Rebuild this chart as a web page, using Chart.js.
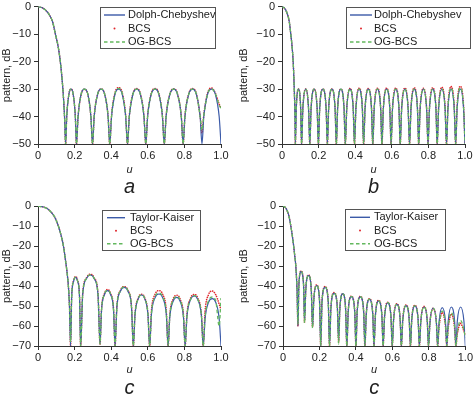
<!DOCTYPE html>
<html>
<head>
<meta charset="utf-8">
<script src="https://cdn.jsdelivr.net/npm/chart.js@4.4.1/dist/chart.umd.min.js"></script>
<style>
  html, body { margin: 0; padding: 0; background: #fff; width: 474px; height: 397px; overflow: hidden; position: relative; }
  canvas { position: absolute; }
</style>
</head>
<body>
<canvas id="pa" width="237" height="200" style="left:0;top:-3px"></canvas>
<canvas id="pb" width="237" height="200" style="left:237px;top:-3px"></canvas>
<canvas id="pc" width="237" height="203" style="left:0;top:194px"></canvas>
<canvas id="pd" width="237" height="203" style="left:237px;top:194px"></canvas>
<script>
// tick labels and names
const xTicks = [0, 0.2, 0.4, 0.6, 0.8, 1.0];
const yTicksAB = [0, -10, -20, -30, -40, -50];
const yTicksCD = [0, -10, -20, -30, -40, -50, -60, -70];
const namesAB = ['Dolph-Chebyshev', 'BCS', 'OG-BCS'];
const namesCD = ['Taylor-Kaiser', 'BCS', 'OG-BCS'];
const captions = ['a', 'b', 'c', 'c'];

// panel a : u, Dolph-Chebyshev, BCS, OG-BCS (dB)
const aU = [0, 0.02, 0.04, 0.06, 0.08, 0.095, 0.11, 0.122, 0.136, 0.145,
  0.151, 0.157, 0.169, 0.1805, 0.192, 0.204,
  0.21, 0.219, 0.236, 0.254, 0.272, 0.289,
  0.298, 0.307, 0.326, 0.345, 0.364, 0.383,
  0.392, 0.402, 0.421, 0.44, 0.46, 0.479,
  0.489, 0.499, 0.519, 0.539, 0.559, 0.579,
  0.589, 0.599, 0.619, 0.64, 0.66, 0.68,
  0.69, 0.7, 0.721, 0.742, 0.762, 0.783,
  0.793, 0.803, 0.824, 0.845, 0.865, 0.886,
  0.896, 0.906, 0.927, 0.948, 0.969, 0.99,
  1.0];
const aDC = [0, -0.3, -1.2, -2.8, -5.6, -10, -14.5, -20, -30, -40,
  -50, -40, -31.8, -30, -31.8, -40,
  -50, -40, -31.8, -30, -31.8, -40,
  -50, -40, -31.8, -30, -31.8, -40,
  -50, -40, -31.8, -30, -31.8, -40,
  -50, -40, -31.8, -30, -31.8, -40,
  -50, -40, -31.8, -30, -31.8, -40,
  -50, -40, -31.8, -30, -31.8, -40,
  -50, -40, -31.8, -30, -31.8, -40,
  -50, -40, -31.8, -30, -31.8, -40,
  -50];
const aBCS = [0, -0.3, -1.2, -2.8, -5.6, -10, -14.5, -20, -30, -40,
  -50, -40, -31.8, -30, -31.8, -40,
  -50, -40.1, -31.9, -30.1, -31.9, -40.1,
  -50, -40, -31.8, -30, -31.8, -40,
  -50, -39.5, -31.3, -29.5, -31.3, -39.5,
  -50, -39.8, -31.6, -29.8, -31.6, -39.8,
  -50, -39.8, -31.6, -29.8, -31.6, -39.8,
  -50, -39.9, -31.7, -29.9, -31.7, -39.9,
  -50, -39.8, -31.6, -29.8, -31.6, -39.8,
  -46, -39.4, -31.4, -29.6, -31.5, -35.5,
  -37];
const aOG = [0, -0.3, -1.2, -2.8, -5.6, -10, -14.5, -20, -30, -40,
  -50, -40, -31.8, -30, -31.8, -40,
  -50, -40, -31.8, -30, -31.8, -40,
  -50, -40, -31.8, -30, -31.8, -40,
  -50, -39.8, -31.6, -29.8, -31.6, -39.8,
  -50, -40, -31.8, -30, -31.8, -40,
  -50, -40, -31.8, -30, -31.8, -40,
  -50, -40, -31.8, -30, -31.8, -40,
  -50, -40, -31.8, -30, -31.8, -40,
  -45, -39.6, -31.7, -29.9, -31.7, -35.8,
  -37];

// panel b
const bU = [0, 0.01, 0.02, 0.03, 0.04, 0.048, 0.055, 0.061, 0.067, 0.071,
  0.073, 0.078, 0.09, 0.102,
  0.107, 0.114, 0.13, 0.145,
  0.152, 0.159, 0.176, 0.192,
  0.199, 0.206, 0.224, 0.241,
  0.248, 0.255, 0.273, 0.29,
  0.297, 0.304, 0.322, 0.339,
  0.346, 0.354, 0.371, 0.389,
  0.396, 0.404, 0.421, 0.439,
  0.446, 0.454, 0.471, 0.489,
  0.496, 0.504, 0.521, 0.539,
  0.546, 0.554, 0.571, 0.589,
  0.596, 0.604, 0.621, 0.639,
  0.646, 0.654, 0.672, 0.689,
  0.697, 0.705, 0.722, 0.74,
  0.747, 0.755, 0.773, 0.79,
  0.798, 0.806, 0.823, 0.841,
  0.848, 0.856, 0.874, 0.891,
  0.899, 0.907, 0.924, 0.941,
  0.949, 0.957, 0.975, 0.992,
  1.0];
const bDC = [0, -0.3, -1.2, -2.8, -5.6, -10, -14.5, -20, -30, -40,
  -50, -37, -30, -37,  -50, -37, -30, -37,  -50, -37, -30, -37,  -50, -37, -30, -37,
  -50, -37, -30, -37,  -50, -37, -30, -37,  -50, -37, -30, -37,  -50, -37, -30, -37,
  -50, -37, -30, -37,  -50, -37, -30, -37,  -50, -37, -30, -37,  -50, -37, -30, -37,
  -50, -37, -30, -37,  -50, -37, -30, -37,  -50, -37, -30, -37,  -50, -37, -30, -37,
  -50, -37, -30, -37,  -50, -37, -30, -37,  -50, -37, -30, -37,
  -50];
const bBCS = [0, -0.3, -1.2, -2.8, -5.6, -10, -14.5, -20, -30, -40,
  -50, -37, -30, -37,  -50, -37, -30, -37,  -50, -37, -30, -37,  -50, -37, -30, -37,
  -50, -37, -30, -37,  -50, -37, -30, -37,  -50, -36.8, -29.8, -36.8,  -50, -36.7, -29.7, -36.7,
  -50, -36.8, -29.8, -36.8,  -50, -36.7, -29.7, -36.7,  -50, -36.7, -29.7, -36.7,  -50, -36.7, -29.7, -36.7,
  -50, -36.6, -29.6, -36.6,  -50, -36.6, -29.6, -36.6,  -50, -36.7, -29.7, -36.7,  -50, -36.6, -29.6, -36.6,
  -50, -36.4, -29.4, -36.4,  -50, -36.1, -29.1, -36.1,  -50, -36, -29, -36,
  -50];
const bOG = [0, -0.3, -1.2, -2.8, -5.6, -10, -14.5, -20, -30, -40,
  -50, -37, -30, -37,  -50, -37, -30, -37,  -50, -37, -30, -37,  -50, -37, -30, -37,
  -50, -37, -30, -37,  -50, -37, -30, -37,  -50, -37, -30, -37,  -50, -37, -30, -37,
  -50, -37, -30, -37,  -50, -37, -30, -37,  -50, -37, -30, -37,  -50, -37, -30, -37,
  -50, -37, -30, -37,  -50, -37, -30, -37,  -50, -37, -30, -37,  -50, -37, -30, -37,
  -50, -37, -30, -37,  -50, -36.6, -29.6, -36.6,  -50, -36.5, -29.5, -36.5,
  -50];

// panel c : u, Taylor-Kaiser, BCS, OG-BCS (dB)
const cU = [0, 0.03, 0.05, 0.07, 0.085, 0.1, 0.113, 0.127, 0.14, 0.15, 0.158, 0.166, 0.172,
  0.178, 0.184, 0.195, 0.205, 0.216, 0.227,
  0.233, 0.244, 0.265, 0.286, 0.307, 0.328,
  0.339, 0.347, 0.364, 0.38, 0.396, 0.413,
  0.421, 0.431, 0.451, 0.471, 0.491, 0.511,
  0.521, 0.53, 0.548, 0.566, 0.583, 0.601,
  0.61, 0.62, 0.64, 0.661, 0.681, 0.701,
  0.711, 0.72, 0.739, 0.758, 0.776, 0.795,
  0.804, 0.814, 0.834, 0.854, 0.873, 0.893,
  0.903, 0.913, 0.932, 0.952, 0.971, 0.99,
  1.0];
const cTK = [0, -0.5, -1.3, -2.9, -4.6, -7.2, -10.5, -15, -20.5, -27, -32.5, -40, -50,
  -70, -45.7, -37.5, -35.7, -37.5, -45.7,
  -70, -44.5, -36.3, -34.5, -36.3, -44.5,
  -69, -52.3, -44.1, -42.3, -44.1, -52.3,
  -70, -50.7, -42.5, -40.7, -42.5, -50.7,
  -70, -54.5, -46.3, -44.5, -46.3, -54.5,
  -70, -54, -45.8, -44, -45.8, -54,
  -70, -55.7, -47.5, -45.7, -47.5, -55.7,
  -70, -55, -46.8, -45, -46.8, -55,
  -70, -56.3, -48.1, -46.3, -48.1, -56.3,
  -70];
const cBCS = [0, -0.5, -1.3, -2.9, -4.6, -7.2, -10.5, -15, -20.5, -27, -32.5, -40, -50,
  -70, -45.3, -37.1, -35.3, -37.1, -45.3,
  -70, -44.1, -35.9, -34.1, -35.9, -44.1,
  -69, -51.8, -43.6, -41.8, -43.6, -51.8,
  -70, -50.3, -42.1, -40.3, -42.1, -50.3,
  -70, -54.1, -45.9, -44.1, -45.9, -54.1,
  -70, -52.3, -44.1, -42.3, -44.1, -52.3,
  -70, -54.6, -46.4, -44.6, -46.4, -54.6,
  -70, -54.2, -46, -44.2, -46, -54.2,
  -70, -52.5, -44.3, -42.5, -44.3, -49,
  -52];
const cOG = [0, -0.5, -1.3, -2.9, -4.6, -7.2, -10.5, -15, -20.5, -27, -32.5, -40, -50,
  -68, -45.6, -37.4, -35.6, -37.4, -45.6,
  -70, -44.4, -36.2, -34.4, -36.2, -44.4,
  -69, -52.1, -43.9, -42.1, -43.9, -52.1,
  -70, -50.5, -42.3, -40.5, -42.3, -50.5,
  -70, -54.4, -46.2, -44.4, -46.2, -54.4,
  -70, -53.5, -45.3, -43.5, -45.3, -53.5,
  -70, -55.2, -47, -45.2, -47, -55.2,
  -70, -54.8, -46.6, -44.8, -46.6, -54.8,
  -70, -55.5, -47.3, -45.5, -47.3, -60,
  -46];

// panel d
const dU = [0, 0.015, 0.025, 0.033, 0.041, 0.049, 0.057, 0.064, 0.071, 0.077,
  0.082, 0.087, 0.099, 0.113,
  0.118, 0.125, 0.14, 0.155,
  0.162, 0.169, 0.184, 0.2,
  0.207, 0.214, 0.231, 0.248,
  0.255, 0.263, 0.28, 0.298,
  0.305, 0.312, 0.328, 0.343,
  0.35, 0.358, 0.375, 0.393,
  0.4, 0.407, 0.424, 0.442,
  0.449, 0.457, 0.474, 0.492,
  0.499, 0.507, 0.524, 0.542,
  0.549, 0.557, 0.574, 0.592,
  0.599, 0.607, 0.624, 0.642,
  0.649, 0.657, 0.674, 0.692,
  0.699, 0.706, 0.723, 0.741,
  0.748, 0.756, 0.773, 0.791,
  0.798, 0.806, 0.823, 0.841,
  0.848, 0.856, 0.873, 0.891,
  0.898, 0.906, 0.923, 0.941,
  0.948, 0.956, 0.974, 0.992,
  1.0];
const dTK = [0, -1, -2.8, -5.2, -9, -13.5, -19, -24.5, -31, -42,
  -60, -39.8, -32.8, -39.8,
  -58, -41.8, -34.8, -41.8,
  -60.5, -46.8, -39.8, -46.8,
  -70, -47.7, -40.7, -47.7,
  -70, -50.7, -43.7, -50.7,
  -67, -50.8, -43.8, -50.8,
  -70, -52.3, -45.3, -52.3,
  -70, -52.4, -45.4, -52.4,
  -70, -53.7, -46.7, -53.7,
  -70, -54.5, -47.5, -54.5,
  -70, -55.4, -48.4, -55.4,
  -70, -56.2, -49.2, -56.2,
  -70, -56.8, -49.8, -56.8,
  -70, -57, -50, -57,
  -70, -57.5, -50.5, -57.5,
  -70, -58, -51, -58,
  -70, -57.8, -50.8, -57.8,
  -70, -57.5, -50.5, -57.5,
  -70, -57.5, -50.5, -57.5,
  -70];
const dBCS = [0, -1, -2.8, -5.2, -9, -13.5, -19, -24.5, -31, -42,
  -60, -39.5, -32.5, -39.5,
  -58, -41.5, -34.5, -41.5,
  -60.5, -46.5, -39.5, -46.5,
  -70, -47.3, -40.3, -47.3,
  -70, -50.3, -43.3, -50.3,
  -68, -51, -44, -51,
  -70, -52.1, -45.1, -52.1,
  -70, -52.2, -45.2, -52.2,
  -70, -53.4, -46.4, -53.4,
  -70, -54.2, -47.2, -54.2,
  -70, -55.1, -48.1, -55.1,
  -70, -55.9, -48.9, -55.9,
  -70, -56.5, -49.5, -56.5,
  -70, -56.7, -49.7, -56.7,
  -70, -57.2, -50.2, -57.2,
  -70, -58.2, -51.2, -58.2,
  -70, -60.3, -53.3, -60.3,
  -70, -61, -54, -61,
  -70, -64, -58.7, -62.5,
  -64];
const dOG = [0, -1, -2.8, -5.2, -9, -13.5, -19, -24.5, -31, -42,
  -59, -39.7, -32.7, -39.7,
  -58.5, -41.7, -34.7, -41.7,
  -61, -46.7, -39.7, -46.7,
  -70, -47.6, -40.6, -47.6,
  -70, -50.6, -43.6, -50.6,
  -69, -50.9, -43.9, -50.9,
  -70, -52.3, -45.3, -52.3,
  -70, -52.3, -45.3, -52.3,
  -70, -53.6, -46.6, -53.6,
  -70, -54.4, -47.4, -54.4,
  -70, -55.3, -48.3, -55.3,
  -70, -56.1, -49.1, -56.1,
  -70, -56.7, -49.7, -56.7,
  -70, -56.9, -49.9, -56.9,
  -70, -57.4, -50.4, -57.4,
  -70, -58.1, -51.1, -58.1,
  -70, -59.6, -52.6, -59.6,
  -70, -60.3, -53.3, -60.3,
  -70, -63, -57.2, -62,
  -66];

Chart.defaults.font.family = '"Liberation Sans", Arial, sans-serif';
Chart.defaults.color = '#222';

const BLUE = '#3b5aa8';
const RED = '#e0262c';
const GREEN = '#63b85e';

function pts(u, y) {
  return u.map((x, i) => ({ x: x, y: y[i] }));
}

// red dots sit under the blue line, green dashes on top
function datasets(names, u, s0, s1, s2) {
  return [
    { label: names[0], data: pts(u, s0), borderColor: BLUE, borderWidth: 1.2, order: 2 },
    { label: names[1], data: pts(u, s1), borderColor: RED, borderWidth: 1.6, borderDash: [0.1, 2.2], borderCapStyle: 'round', order: 3, dot: true },
    { label: names[2], data: pts(u, s2), borderColor: GREEN, borderWidth: 1.3, borderDash: [3.5, 2.5], order: 1 }
  ];
}

// legend box + caption drawn on the canvas
function extras(lg, caption) {
  return {
    id: 'extras',
    afterDraw(chart) {
      const ctx = chart.ctx;
      ctx.save();
      ctx.fillStyle = '#fff';
      ctx.fillRect(lg.x, lg.y, lg.w, lg.h);
      ctx.strokeStyle = '#555';
      ctx.lineWidth = 1;
      ctx.setLineDash([]);
      ctx.strokeRect(lg.x + 0.5, lg.y + 0.5, lg.w, lg.h);
      ctx.font = '11px "Liberation Sans", Arial, sans-serif';
      ctx.textBaseline = 'middle';
      chart.data.datasets.forEach((ds, i) => {
        const y = lg.y0 + i * lg.dy;
        ctx.strokeStyle = ds.borderColor;
        ctx.fillStyle = ds.borderColor;
        if (ds.dot) {
          ctx.beginPath();
          ctx.arc((lg.s0 + lg.s1) / 2, y, 1, 0, Math.PI * 2);
          ctx.fill();
        } else {
          ctx.lineWidth = ds.borderWidth + 0.2;
          ctx.setLineDash(ds.borderDash || []);
          ctx.beginPath();
          ctx.moveTo(lg.s0, y);
          ctx.lineTo(lg.s1, y);
          ctx.stroke();
          ctx.setLineDash([]);
        }
        ctx.fillStyle = '#222';
        ctx.fillText(ds.label, lg.tx, y);
      });
      const a = chart.chartArea;
      ctx.font = 'italic 20px "Liberation Sans", Arial, sans-serif';
      ctx.textAlign = 'center';
      ctx.textBaseline = 'alphabetic';
      ctx.fillStyle = '#222';
      ctx.fillText(caption, (a.left + a.right) / 2, lg.capY);
      ctx.restore();
    }
  };
}

function panel(id, ds, yTicks, p, lg, caption) {
  const yMin = yTicks[yTicks.length - 1];
  new Chart(document.getElementById(id), {
    type: 'line',
    data: { datasets: ds },
    options: {
      responsive: false,
      animation: false,
      devicePixelRatio: 1,
      layout: { padding: { left: 0, right: p.right, top: p.top, bottom: 0 } },
      elements: { point: { radius: 0 }, line: { cubicInterpolationMode: 'monotone', fill: false } },
      plugins: { legend: { display: false }, tooltip: { enabled: false } },
      scales: {
        x: {
          type: 'linear', min: 0, max: 1,
          afterBuildTicks: s => { s.ticks = xTicks.map(v => ({ value: v })); },
          afterFit: s => { s.height = p.xh; },
          ticks: { font: { size: 11 }, padding: 1, maxRotation: 0,
            callback: v => v === 0 ? '0' : v.toFixed(1) },
          grid: { display: true, drawOnChartArea: false, tickLength: 4, color: '#333' },
          border: { display: true, color: '#333' },
          title: { display: true, text: 'u', font: { size: 11, style: 'italic' }, padding: { top: 0, bottom: 20 } }
        },
        y: {
          min: yMin, max: 0,
          afterBuildTicks: s => { s.ticks = yTicks.map(v => ({ value: v })); },
          afterFit: s => { s.width = p.yw; },
          ticks: { font: { size: 11 }, padding: 3,
            callback: v => String(v).replace('-', '\u2212') },
          grid: { display: true, drawOnChartArea: false, tickLength: 4, color: '#333' },
          border: { display: true, color: '#333' },
          title: { display: true, text: 'pattern, dB', font: { size: 11 }, padding: 0 }
        }
      }
    },
    plugins: [extras(lg, caption)]
  });
}

panel('pa', datasets(namesAB, aU, aDC, aBCS, aOG), yTicksAB,
  { right: 16, top: 7, xh: 53, yw: 38 },
  { x: 100, y: 10, w: 115, h: 41, y0: 18, dy: 13.5, s0: 104, s1: 125, tx: 128, capY: 196 }, captions[0]);
panel('pb', datasets(namesAB, bU, bDC, bBCS, bOG), yTicksAB,
  { right: 9, top: 7, xh: 53, yw: 45 },
  { x: 109, y: 10, w: 124, h: 41, y0: 18, dy: 13.5, s0: 113, s1: 135, tx: 137, capY: 196 }, captions[1]);
panel('pc', datasets(namesCD, cU, cTK, cBCS, cOG), yTicksCD,
  { right: 16, top: 12, xh: 51, yw: 38 },
  { x: 102, y: 16, w: 98, h: 40, y0: 23.7, dy: 13, s0: 107, s1: 125, tx: 130, capY: 200 }, captions[2]);
panel('pd', datasets(namesCD, dU, dTK, dBCS, dOG), yTicksCD,
  { right: 8, top: 12, xh: 51, yw: 46 },
  { x: 108, y: 15, w: 100, h: 41, y0: 23.3, dy: 13.2, s0: 113, s1: 133, tx: 137, capY: 200 }, captions[3]);
</script>
</body>
</html>
